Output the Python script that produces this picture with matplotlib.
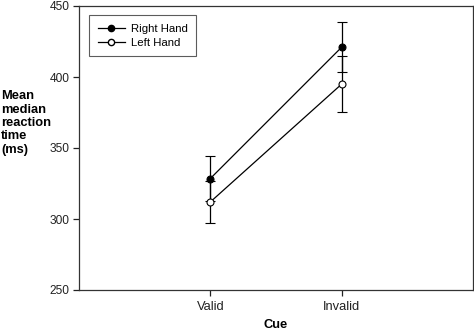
import matplotlib.pyplot as plt
from matplotlib.lines import Line2D

plt.rcParams['font.family'] = ['Liberation Sans', 'DejaVu Sans']

cues = ['Valid', 'Invalid']
x_pos = [1, 2]
right_hand = [328.5, 421.0]
right_err = [16.0, 17.5]
left_hand = [312.0, 395.0]
left_err = [14.5, 19.5]
y_ticks = [250, 300, 350, 400, 450]

fig = plt.figure(figsize=(4.74, 3.32), dpi=100)
ax = fig.add_axes([79 / 474, 1 - 290 / 332, 394 / 474, 284 / 332])

ax.errorbar(x_pos, right_hand, yerr=right_err, color='black', lw=0.9,
            marker='o', ms=5, mfc='black', mec='black', mew=0.8,
            capsize=3.5, elinewidth=0.9, capthick=0.9, zorder=3)
ax.errorbar(x_pos, left_hand, yerr=left_err, color='black', lw=0.9,
            marker='o', ms=5, mfc='white', mec='black', mew=0.8,
            capsize=3.5, elinewidth=0.9, capthick=0.9, zorder=3)

ax.set_xlim(0, 3)
ax.set_ylim(250, 450)
ax.set_xticks(x_pos)
ax.set_xticklabels(cues)
ax.set_yticks(y_ticks)
ax.tick_params(direction='out', length=4, width=0.9, colors='#222222')
ax.tick_params(axis='x', labelsize=9.3, pad=4)
ax.tick_params(axis='y', labelsize=8.6, pad=3)
for s in ax.spines.values():
    s.set_linewidth(0.9)
    s.set_color('#333333')

ax.set_xlabel('Cue', fontsize=9.3, fontweight='bold', labelpad=4)
fig.text(0.002, 1 - 123 / 332, 'Mean\nmedian\nreaction\ntime\n(ms)',
         fontsize=9.3, fontweight='bold', ha='left', va='center', linespacing=1.15)

handles = [
    Line2D([], [], color='black', lw=0.9, marker='o', ms=4.5, mfc='black', mec='black'),
    Line2D([], [], color='black', lw=0.9, marker='o', ms=4.5, mfc='white', mec='black'),
]
leg = ax.legend(handles, ['Right Hand', 'Left Hand'], loc='upper left',
                bbox_to_anchor=(10 / 394, 1 - 9 / 284), fontsize=8.2,
                frameon=True, fancybox=False, edgecolor='#333333', handlelength=2.4,
                borderpad=0.75, labelspacing=0.35, handletextpad=0.5, borderaxespad=0)
leg.get_frame().set_linewidth(0.8)

fig.savefig('out.png', dpi=100)
